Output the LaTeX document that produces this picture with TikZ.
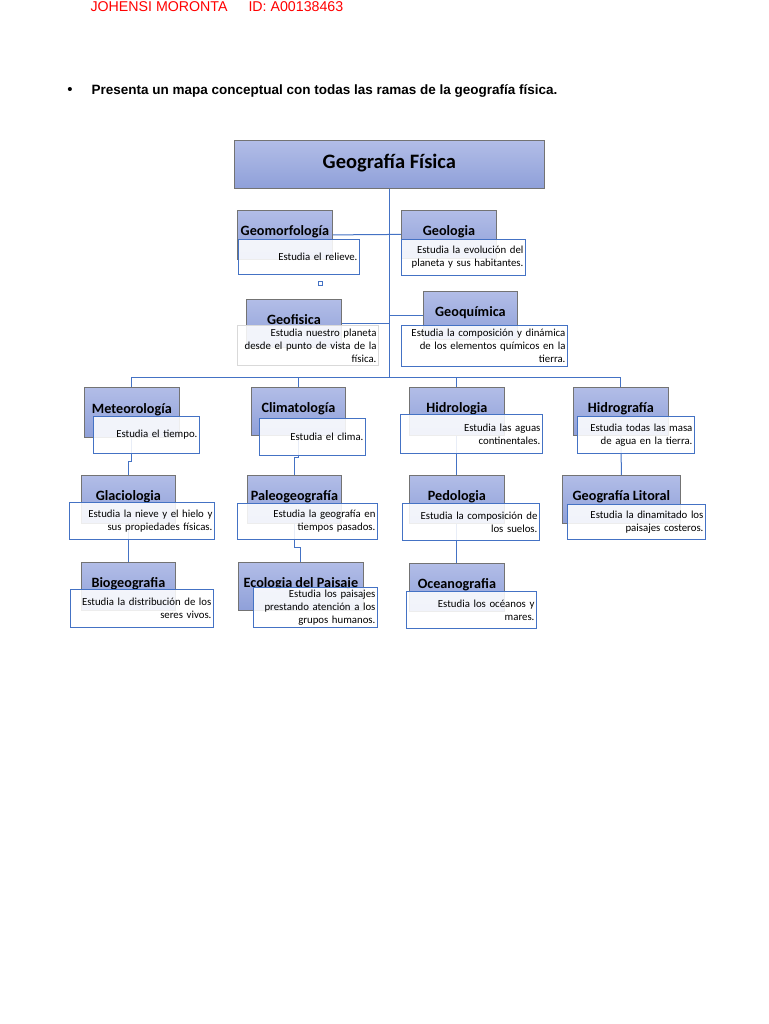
\documentclass[tikz,border=0pt]{standalone}
\usepackage{fontspec}
\setmainfont{Carlito}
\newfontfamily\arialfont{Liberation Sans}
\usetikzlibrary{backgrounds}
\definecolor{linkblue}{RGB}{68,114,196}
\definecolor{headtop}{RGB}{178,189,231}
\definecolor{headbot}{RGB}{143,160,217}
\begin{document}
\begin{tikzpicture}[x = 1pt, y = -1pt,
	head/.style = {draw = gray!90!black, line width = 0.8pt, top color = headtop, bottom color = headbot, inner sep = 0pt, anchor = north west, text height = 10pt, text depth = 8pt, font = \fontsize{14.2}{16}\selectfont\bfseries},
	desc/.style = {draw = linkblue, line width = 0.9pt, fill = white, fill opacity = 0.88, text opacity = 1, inner xsep = 2pt, inner ysep = 0pt, anchor = north west, align = right, font = \fontsize{10.8}{13}\selectfont},
	link/.style = {draw = linkblue, line width = 1pt}]
	\useasboundingbox (0,0) rectangle (768,1024);
	\node [anchor = west, text = red, font = \arialfont\fontsize{14.2}{16}\selectfont] (autor) at (87,7) {JOHENSI MORONTA};
	\node [anchor = west, text = red, font = \arialfont\fontsize{14.2}{16}\selectfont] (ident) at (245,7) {ID: A00138463};
	\node [font = \arialfont\fontsize{15}{16}\selectfont] (vineta) at (70,91) {\textbullet};
	\node [anchor = west, font = \arialfont\fontsize{13.5}{15}\selectfont\bfseries] (consigna) at (88,91) {Presenta un mapa conceptual con todas las ramas de la geografía física.};
	\node [head, minimum width = 310, minimum height = 48, text height = 14pt, text depth = 5pt, font = \fontsize{20.5}{22}\selectfont\bfseries] (main) at (234,140) {Geografía Física};
	\node [head, minimum width = 95, minimum height = 49] (geomorf) at (237,210) {Geomorfología};
	\node [head, minimum width = 95, minimum height = 48] (geolog) at (401,210) {Geologia};
	\node [head, minimum width = 95, minimum height = 48] (geofis) at (246,299) {Geofisica};
	\node [head, minimum width = 94, minimum height = 48] (geoquim) at (423,291) {Geoquímica};
	\node [head, minimum width = 95, minimum height = 50] (meteo) at (84,387) {Meteorología};
	\node [head, minimum width = 94, minimum height = 48] (clima) at (251,387) {Climatología};
	\node [head, minimum width = 95, minimum height = 48] (hidrol) at (409,387) {Hidrologia};
	\node [head, minimum width = 95, minimum height = 48] (hidrog) at (573,387) {Hidrografía};
	\node [head, minimum width = 94, minimum height = 48] (glacio) at (81,475) {Glaciologia};
	\node [head, minimum width = 94, minimum height = 48] (paleo) at (247,475) {Paleogeografía};
	\node [head, minimum width = 95, minimum height = 48] (pedo) at (409,475) {Pedologia};
	\node [head, minimum width = 118, minimum height = 48] (litoral) at (562,475) {Geografía Litoral};
	\node [head, minimum width = 94, minimum height = 48] (biogeo) at (81,562) {Biogeografia};
	\node [head, minimum width = 125, minimum height = 48] (ecolog) at (238,562) {Ecologia del Paisaje};
	\node [head, minimum width = 95, minimum height = 48] (oceano) at (409,563) {Oceanografia};
	\node [desc, text width = 117, minimum height = 35] (dgeomorf) at (238,239) {Estudia el relieve.};
	\node [desc, text width = 120, minimum height = 36] (dgeolog) at (401,239) {Estudia la evolución del\\planeta y sus habitantes.};
	\node [desc, draw = gray!30, text width = 137, minimum height = 40] (dgeofis) at (237,325) {Estudia nuestro planeta\\desde el punto de vista de la\\física.};
	\node [desc, text width = 162, minimum height = 41] (dgeoquim) at (401,325) {Estudia la composición y dinámica\\de los elementos químicos en la\\tierra.};
	\node [desc, text width = 102, minimum height = 37] (dmeteo) at (93,416) {Estudia el tiempo.};
	\node [desc, text width = 102, minimum height = 37] (dclima) at (259,418) {Estudia el clima.};
	\node [desc, text width = 138, minimum height = 39] (dhidrol) at (400,414) {Estudia las aguas\\continentales.};
	\node [desc, text width = 113, minimum height = 37] (dhidrog) at (577,416) {Estudia todas las masa\\de agua en la tierra.};
	\node [desc, text width = 141, minimum height = 37] (dglacio) at (69,502) {Estudia la nieve y el hielo y\\sus propiedades físicas.};
	\node [desc, text width = 136, minimum height = 36] (dpaleo) at (237,503) {Estudia la geografía en\\tiempos pasados.};
	\node [desc, text width = 133, minimum height = 37] (dpedo) at (402,503) {Estudia la composición de\\los suelos.};
	\node [desc, text width = 134, minimum height = 35] (dlitoral) at (567,504) {Estudia la dinamitado los\\paisajes costeros.};
	\node [desc, text width = 139, minimum height = 38] (dbiogeo) at (70,589) {Estudia la distribución de los\\seres vivos.};
	\node [desc, text width = 120, minimum height = 40] (decolog) at (253,587) {Estudia los paisajes\\prestando atención a los\\grupos humanos.};
	\node [desc, text width = 126, minimum height = 37] (doceano) at (406,591) {Estudia los océanos y\\mares.};
	\node [draw = linkblue, line width = 0.8pt, minimum size = 4, inner sep = 0pt] (punto) at (320,283) {};
	\begin{pgfonlayer}{background}
	\fill [white] (0,0) rectangle (768,1024);
	\draw [link] (meteo.north) -- ++(0,-10) coordinate (bus) -| (hidrog.north);
	\draw [link] (main.south) -- (main.south |- bus);
	\draw [link] (geomorf.east) -- (geolog.west);
	\draw [link] (geofis.east) -- (geofis.east -| main.south);
	\draw [link] (geoquim.west) -- (geoquim.west -| main.south);
	\foreach \rama in {clima, hidrol}{
	\draw [link] (\rama.north) -- ++(0,-10);
	}
	\draw [link] (meteo.south) -- ++(0,24) -| (glacio.north);
	\draw [link] (clima.south) -- ++(0,22) -| (paleo.north);
	\draw [link] (paleo.south) -- ++(0,24) -| (ecolog.north);
	\draw [link] (glacio.south) -- (biogeo.north);
	\draw [link] (hidrol.south) -- (pedo.north);
	\draw [link] (pedo.south) -- (oceano.north);
	\draw [link] (hidrog.south) -- (litoral.north);
	\end{pgfonlayer}
\end{tikzpicture}
\end{document}
